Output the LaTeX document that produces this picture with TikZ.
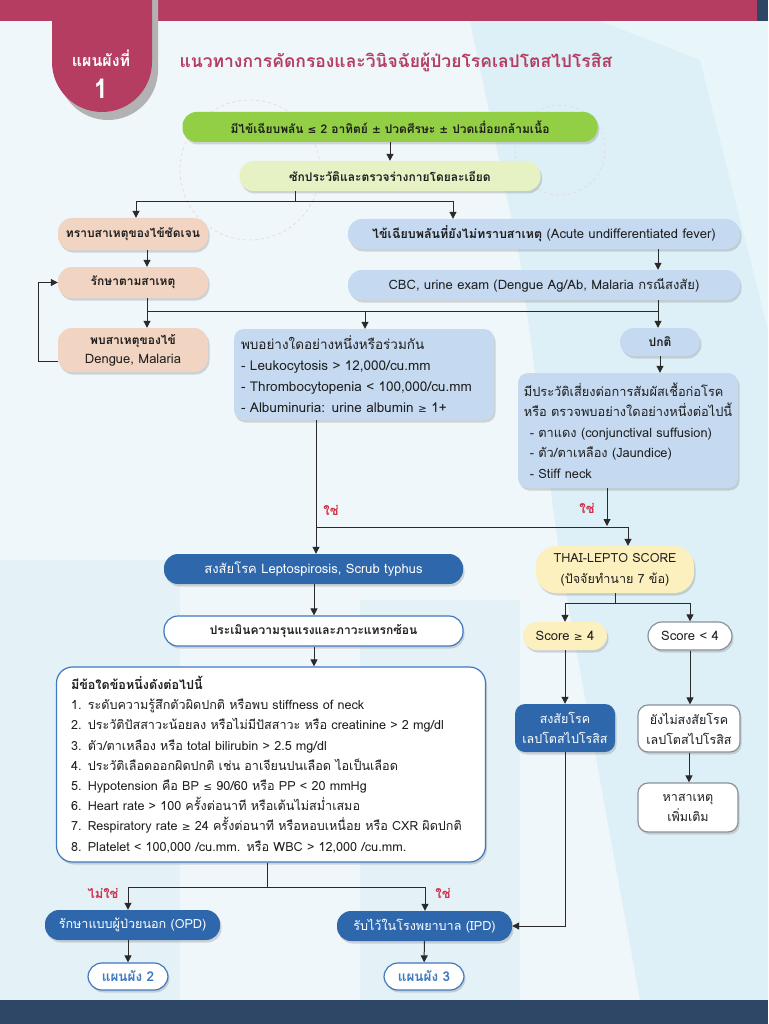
\documentclass[tikz,border=0pt]{standalone}
\usepackage{fontspec}
\setmainfont{Loma}[Script=Thai]
\newfontfamily\symf{DejaVu Sans}
\usetikzlibrary{shadows,arrows.meta}
\definecolor{crim}{HTML}{B53D62}
\definecolor{navy}{HTML}{2E4766}
\definecolor{bgc}{HTML}{EFF7FB}
\definecolor{bgc2}{HTML}{DDF0F7}
\definecolor{cgreen}{HTML}{93CF45}
\definecolor{lgreen}{HTML}{E6F2C4}
\definecolor{peach}{HTML}{F2D4C3}
\definecolor{lblue}{HTML}{C5DAF0}
\definecolor{yel}{HTML}{FDF0BF}
\definecolor{dblue}{HTML}{2F67AC}
\definecolor{bbd}{HTML}{3F78C0}
\definecolor{gbd}{HTML}{8A9299}
\definecolor{redl}{HTML}{D0314A}
\definecolor{txt}{HTML}{1E1E1E}
\definecolor{lnc}{HTML}{2A2A2A}
\newcommand{\sle}{{\symf\fontsize{10.5}{10}\selectfont ≤}}
\newcommand{\sge}{{\symf\fontsize{10.5}{10}\selectfont ≥}}
\newcommand{\spm}{{\symf\fontsize{10.5}{10}\selectfont ±}}
\tikzset{
 box/.style={align=center, inner sep=2pt, text=txt, font=\fontsize{13}{18}\selectfont,
   drop shadow={shadow xshift=1.5pt, shadow yshift=-2.5pt, opacity=0.3}},
 pill/.style={box, rounded corners=14pt},
 card/.style={box, rounded corners=10pt},
 headf/.style={font=\fontsize{12}{17}\selectfont\bfseries},
 arr/.style={draw=lnc, line width=1pt, -{Triangle[length=7pt,width=7pt]}},
 ln/.style={draw=lnc, line width=1pt},
 yeslbl/.style={text=redl, font=\fontsize{13}{13}\selectfont\bfseries},
}
\begin{document}
\begin{tikzpicture}[x=1pt,y=-1pt]
\useasboundingbox (0,0) rectangle (768,1024);
% background
\fill[bgc] (0,0) rectangle (768,1024);
\fill[bgc2] (470,21) -- (768,21) -- (768,1000) -- (640,1000) -- (560,560) -- (520,260) -- cycle;
\fill[white,opacity=0.35] (600,21) -- (768,21) -- (768,330) -- (700,60) -- cycle;
\fill[bgc2,opacity=0.6] (0,560) rectangle (180,1000);
\fill[bgc2,opacity=0.6] (360,600) rectangle (520,1000);
\draw[gray!25,dashed,line width=0.8pt] (250,170) circle (70);
\draw[gray!25,dashed,line width=0.8pt] (560,150) circle (45);
% top and bottom bars
\fill[crim] (0,0) rectangle (757,21);
\fill[navy] (757,0) rectangle (768,21);
\fill[navy] (0,1000) rectangle (768,1024);
% tab
\fill[gray!60] (58,0) -- (58,70) arc[start angle=180,end angle=0,radius=50] -- (158,0) -- cycle;
\fill[crim] (52,0) -- (52,62) arc[start angle=180,end angle=0,radius=50] -- (152,0) -- cycle;
\node[text=white, font=\fontsize{16}{16}\selectfont\bfseries] (tab1) at (101,58) {แผนผังที่};
\node[text=white, font=\fontsize{27}{27}\selectfont\bfseries] (tab2) at (101,89) {1};
% title
\node[anchor=west, text=crim, font=\fontsize{17.5}{18}\selectfont\bfseries] (title) at (176,62) {แนวทางการคัดกรองและวินิจฉัยผู้ป่วยโรคเลปโตสไปโรสิส};

% nodes
\node[pill, headf, fill=cgreen, minimum width=415pt, minimum height=30pt] (n1) at (390,127) {มีไข้เฉียบพลัน \sle{} 2 อาทิตย์ \spm{} ปวดศีรษะ \spm{} ปวดเมื่อยกล้ามเนื้อ};
\node[pill, headf, fill=lgreen, minimum width=301pt, minimum height=30pt] (n2) at (390,176) {ซักประวัติและตรวจร่างกายโดยละเอียด};
\node[pill, headf, fill=peach, minimum width=150pt, minimum height=32pt] (n3) at (133,234) {ทราบสาเหตุของไข้ชัดเจน};
\node[pill, headf, fill=peach, minimum width=150pt, minimum height=31pt] (n4) at (133,282.5) {รักษาตามสาเหตุ};
\node[pill, fill=peach, minimum width=150pt, minimum height=44pt, font=\fontsize{13}{19}\selectfont] (n5) at (133,350) {{\fontsize{12}{19}\selectfont\bfseries พบสาเหตุของไข้}\\Dengue, Malaria};
\node[pill, fill=lblue, minimum width=392pt, minimum height=30pt] (n6) at (544,234) {{\fontsize{12.5}{17}\selectfont\bfseries ไข้เฉียบพลันที่ยังไม่ทราบสาเหตุ} (Acute undifferentiated fever)};
\node[pill, fill=lblue, minimum width=392pt, minimum height=30pt] (n7) at (544,285) {CBC, urine exam (Dengue Ag/Ab, Malaria กรณีสงสัย)};
\node[card, fill=lblue, minimum width=260pt, minimum height=91pt, text width=246pt, align=left, font=\fontsize{13.5}{21}\selectfont] (n8) at (364,374.5) {พบอย่างใดอย่างหนึ่งหรือร่วมกัน\\- Leukocytosis > 12,000/cu.mm\\- Thrombocytopenia < 100,000/cu.mm\\- Albuminuria: urine albumin \sge{} 1+};
\node[pill, headf, fill=lblue, minimum width=80pt, minimum height=28pt] (n9) at (660,342) {ปกติ};
\node[card, fill=lblue, minimum width=220pt, minimum height=115pt, align=left, font=\fontsize{12.8}{20.5}\selectfont] (n10) at (628,430.5) {มีประวัติเสี่ยงต่อการสัมผัสเชื้อก่อโรค\\หรือ ตรวจพบอย่างใดอย่างหนึ่งต่อไปนี้\\\hspace*{6pt}- ตาแดง (conjunctival suffusion)\\\hspace*{6pt}- ตัว/ตาเหลือง (Jaundice)\\\hspace*{6pt}- Stiff neck};
\node[pill, rounded corners=20pt, fill=yel, minimum width=158pt, minimum height=47pt, font=\fontsize{12.6}{21}\selectfont] (n11) at (615,569.5) {THAI-LEPTO SCORE\\(ปัจจัยทำนาย 7 ข้อ)};
\node[pill, fill=dblue, text=white, minimum width=299pt, minimum height=30pt] (n12) at (313.5,569) {สงสัยโรค Leptospirosis, Scrub typhus};
\node[pill, headf, fill=white, draw=bbd, line width=1.2pt, minimum width=299pt, minimum height=30pt] (n13) at (313.5,631) {ประเมินความรุนแรงและภาวะแทรกซ้อน};
\node[pill, fill=yel, minimum width=84pt, minimum height=28pt] (n14) at (565,636) {Score \sge{} 4};
\node[pill, fill=white, draw=gbd, line width=1.2pt, minimum width=84pt, minimum height=28pt] (n15) at (690,636) {Score < 4};
\node[card, rounded corners=16pt, fill=white, draw=bbd, line width=1.2pt, minimum width=429pt, minimum height=195pt, text width=400pt, align=left, font=\fontsize{12.6}{20.2}\selectfont] (n16) at (271,764.5) {{\bfseries มีข้อใดข้อหนึ่งดังต่อไปนี้}\\
1. ระดับความรู้สึกตัวผิดปกติ หรือพบ stiffness of neck\\
2. ประวัติปัสสาวะน้อยลง หรือไม่มีปัสสาวะ หรือ creatinine > 2 mg/dl\\
3. ตัว/ตาเหลือง หรือ total bilirubin > 2.5 mg/dl\\
4. ประวัติเลือดออกผิดปกติ เช่น อาเจียนปนเลือด ไอเป็นเลือด\\
5. Hypotension คือ BP \sle{} 90/60 หรือ PP < 20 mmHg\\
6. Heart rate > 100 ครั้งต่อนาที หรือเต้นไม่สม่ำเสมอ\\
7. Respiratory rate \sge{} 24 ครั้งต่อนาที หรือหอบเหนื่อย หรือ CXR ผิดปกติ\\
8. Platelet < 100,000 /cu.mm. หรือ WBC > 12,000 /cu.mm.};
\node[card, fill=dblue, text=white, minimum width=100pt, minimum height=48pt, font=\fontsize{12.5}{20}\selectfont] (n17) at (565,728) {สงสัยโรค\\เลปโตสไปโรสิส};
\node[card, fill=white, draw=gbd, line width=1.2pt, minimum width=102pt, minimum height=47pt, font=\fontsize{12.5}{20}\selectfont] (n18) at (689,728.5) {ยังไม่สงสัยโรค\\เลปโตสไปโรสิส};
\node[card, fill=white, draw=gbd, line width=1.2pt, minimum width=100pt, minimum height=49pt, font=\fontsize{12.5}{20}\selectfont] (n19) at (688,807.5) {หาสาเหตุ\\เพิ่มเติม};
\node[pill, fill=dblue, text=white, minimum width=175pt, minimum height=30pt, font=\fontsize{12.6}{17}\selectfont] (n20) at (132.5,925) {รักษาแบบผู้ป่วยนอก (OPD)};
\node[pill, fill=dblue, text=white, minimum width=175pt, minimum height=30pt, font=\fontsize{12.6}{17}\selectfont] (n21) at (424.5,926) {รับไว้ในโรงพยาบาล (IPD)};
\node[pill, fill=white, draw=bbd, line width=1.2pt, text=bbd, minimum width=80pt, minimum height=27pt, font=\fontsize{13.5}{17}\selectfont\bfseries] (n22) at (128,976.5) {แผนผัง 2};
\node[pill, fill=white, draw=bbd, line width=1.2pt, text=bbd, minimum width=80pt, minimum height=27pt, font=\fontsize{13.5}{17}\selectfont\bfseries] (n23) at (424,976.5) {แผนผัง 3};

% helper coordinates
\coordinate (j1) at (295,202);
\coordinate (x136) at (136,0);
\coordinate (x147) at (147,0);
\coordinate (x453) at (453,0);
\coordinate (x658) at (658,0);
\coordinate (x365) at (365,0);
\coordinate (j2) at (658,311);
\coordinate (jl) at (38,361);
\coordinate (j3) at (316,527);
\coordinate (x607) at (607,0);
\coordinate (x628) at (628,0);
\coordinate (j4) at (615,603);
\coordinate (j5) at (267,887);
\coordinate (x128) at (128,0);
\coordinate (x425) at (425,0);
\coordinate (x314) at (314,0);

% connectors
\draw[arr] (n1) -- (n2);
\draw[ln] (n2.south -| j1) -- (j1);
\draw[arr] (j1) -| (n3.north -| x136);
\draw[arr] (j1) -| (n6.north -| x453);
\draw[arr] (n3.south -| x147) -- (n4.north -| x147);
\draw[arr] (n4.south -| x147) -- (n5.north -| x147);
\draw[arr] (n5.west |- jl) -- (jl) |- (n4.west);
\draw[arr] (n6.south -| x658) -- (n7.north -| x658);
\draw[ln] (n7.south -| x658) -- (j2);
\draw[ln] (j2) -- (j2 -| x147);
\draw[arr] (j2 -| x365) -- (n8.north -| x365);
\draw[arr] (j2) -- (n9.north -| j2);
\draw[arr] (n9) -- (n10.north -| n9);
\draw[arr] (n8.south -| j3) -- (n12.north -| j3);
\draw[ln] (j3) -- (j3 -| x628);
\draw[arr] (j3 -| x628) -- (n11.north -| x628);
\draw[arr] (n10.south -| x607) -- ([yshift=1pt]j3 -| x607);
\node[yeslbl] (y1) at (331,510) {ใช่};
\node[yeslbl] (y2) at (587,508) {ใช่};
\draw[ln] (n11.south -| j4) -- (j4);
\draw[arr] (j4) -| (n14.north);
\draw[arr] (j4) -| (n15.north);
\draw[arr] (n12.south -| x314) -- (n13.north -| x314);
\draw[arr] (n13.south -| x314) -- (n16.north -| x314);
\draw[arr] (n14) -- (n17);
\draw[arr] (n15) -- (n18.north -| n15);
\draw[arr] (n18) -- (n19.north -| n18);
\draw[arr] (n17) |- (n21.east);
\draw[ln] (n16.south -| j5) -- (j5);
\draw[arr] (j5) -| (n20.north -| x128);
\draw[arr] (j5) -| (n21.north -| x425);
\node[yeslbl] (y3) at (103,893) {ไม่ใช่};
\node[yeslbl] (y4) at (443,893) {ใช่};
\draw[arr] (n20.south -| x128) -- (n22);
\draw[arr] (n21) -- (n23);
\end{tikzpicture}
\end{document}
